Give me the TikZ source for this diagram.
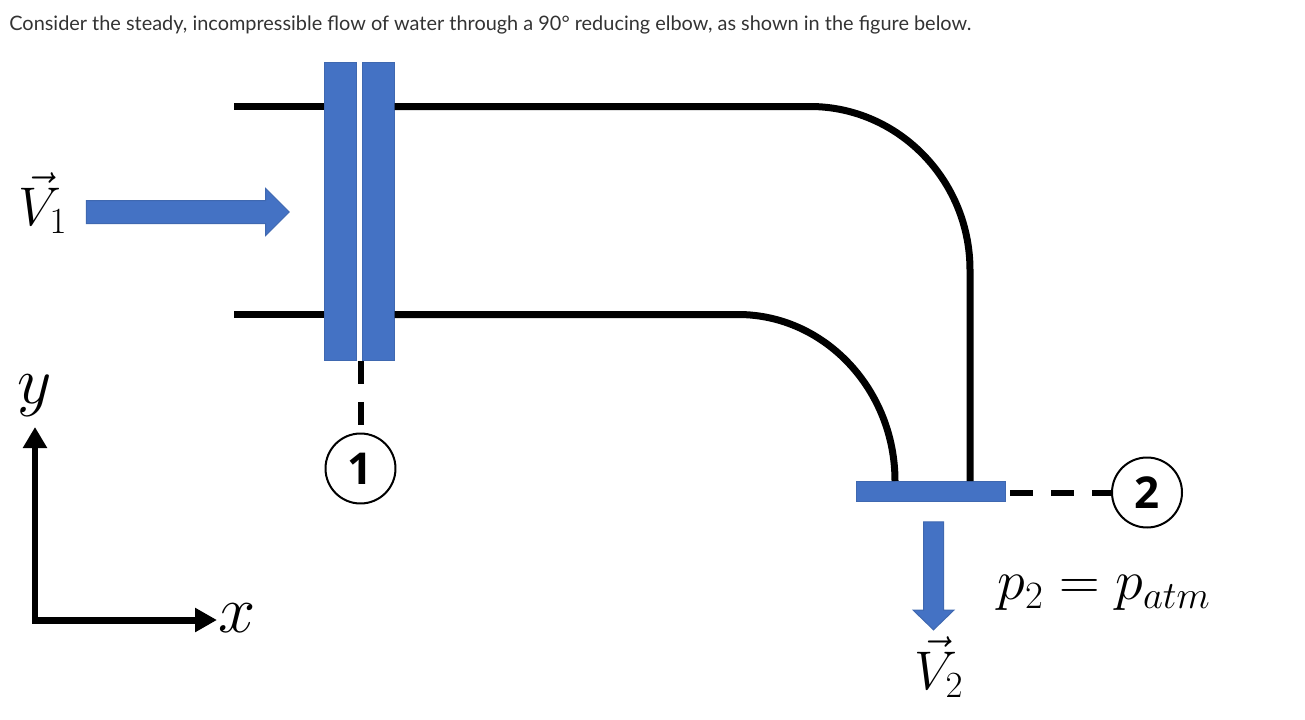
\documentclass[tikz,border=0pt]{standalone}
\usepackage{fix-cm}
\usepackage[no-math]{fontspec}
\setmainfont{Lato}
\newfontfamily\digitfont{Open Sans}[BoldFont={Open Sans Bold}]
\usetikzlibrary{arrows.meta,shapes.arrows}

\DeclareMathSizes{31}{31}{21}{16}
\DeclareMathSizes{32}{32}{22}{16}

\definecolor{flowblue}{HTML}{4472C4}
\definecolor{flowedge}{HTML}{3F68B0}

\tikzset{
    flange/.style={rectangle, fill=flowblue, draw=flowedge, line width=0.02cm, inner sep=0pt},
    pipe/.style={line width=0.14cm},
    cutline/.style={line width=0.12cm, dash pattern=on 0.46cm off 0.36cm},
    station/.style={circle, draw, line width=0.04cm, fill=white, minimum size=1.4cm, inner sep=0pt, font=\digitfont\bfseries\fontsize{25}{29}\selectfont},
    flowarrow/.style={single arrow, fill=flowblue, draw=flowedge, line width=0.02cm, single arrow head indent=0pt, inner xsep=0pt},
    axis/.style={line width=0.14cm, {Triangle[length=0.42cm,width=0.46cm]}-{Triangle[length=0.44cm,width=0.46cm]}},
    mathlabel/.style={inner sep=0pt, font=\fontsize{31}{36}\selectfont},
    axislabel/.style={inner sep=0pt, font=\fontsize{38}{44}\selectfont},
}

\begin{document}
\begin{tikzpicture}[x=0.02cm, y=-0.02cm]
    \useasboundingbox (0,0) rectangle (1305,720);

    \node[anchor=base west, inner sep=0pt, text=black!80, font=\fontsize{11.33}{13}\selectfont] (heading) at (9,31) {Consider the steady, incompressible flow of water through a 90° reducing elbow, as shown in the figure below.};

    % flanges
    \node[flange, minimum width=0.64cm, minimum height=5.98cm] (flangeA) at (340,211.5) {};
    \node[flange, minimum width=0.64cm, minimum height=5.98cm] (flangeB) at (378,211.5) {};
    \node[flange, minimum width=3cm, minimum height=0.4cm] (flangeC) at (931,491) {};

    % elbow walls
    \coordinate (topin) at (234,106.5);
    \coordinate (lowin) at (234,314.5);
    \coordinate (topbend) at (810,106.5);
    \coordinate (lowbend) at (738,314.5);
    \coordinate (topdrop) at (970,270);
    \coordinate (topfoot) at (970,481);
    \coordinate (lowfoot) at (895,481);

    \draw[pipe] (topin) -- (flangeA.west |- topin);
    \draw[pipe] (lowin) -- (flangeA.west |- lowin);
    \draw[pipe] (flangeB.east |- topin) -- (topbend) .. controls (898,106.5) and (970,180) .. (topdrop) -- (topfoot);
    \draw[pipe] (flangeB.east |- lowin) -- (lowbend) .. controls (825,314.5) and (895,390) .. (lowfoot);

    % stations
    \node[station] (stationA) at (360.5,468.5) {1};
    \node[station] (stationB) at (1147,492.5) {2};
    \coordinate (gapfoot) at (360.5,361);

    \draw[cutline] (gapfoot) -- (stationA.north);
    \draw[cutline, shorten <=0.08cm] (flangeC.east |- stationB) -- (stationB.west);

    % flow arrows
    \node[flowarrow, inner ysep=0.22cm, minimum height=4.06cm, minimum width=0.92cm, single arrow head extend=0.24cm, single arrow tip angle=90] (flowin) at (182,212) {};
    \node[flowarrow, rotate=-90, inner ysep=0.19cm, minimum height=2.16cm, minimum width=0.8cm, single arrow head extend=0.21cm, single arrow tip angle=92] (flowout) at (933.5,571) {};

    % axes
    \coordinate (origin) at (35,620);
    \coordinate (yend) at (35,427);
    \coordinate (xend) at (217,620);
    \draw[axis] (yend) -- (origin) -- (xend);

    \node[axislabel] (ylabel) at (35,396) {$y$};
    \node[axislabel] (xlabel) at (237,618) {$x$};
    \node[mathlabel] (velin) at (43,203) {$\vec{V}_1$};
    \node[mathlabel] (velout) at (939,667) {$\vec{V}_2$};
    \node[mathlabel, font=\fontsize{32}{37}\selectfont] (exitp) at (1104,593) {$p_2 = p_{atm}$};
\end{tikzpicture}
\end{document}
